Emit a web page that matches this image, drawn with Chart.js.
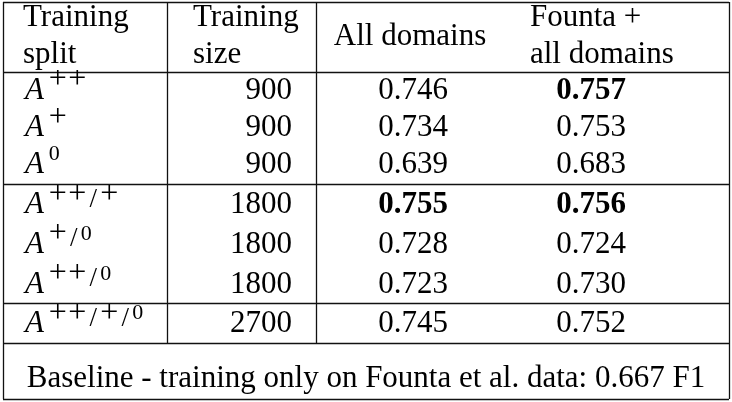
<!DOCTYPE html>
<html><head><meta charset="utf-8">
<script src="https://cdn.jsdelivr.net/npm/chart.js@4.4.1/dist/chart.umd.min.js"></script>
<style>html,body{margin:0;padding:0;background:#fff}#wrap{width:732px;height:402px;position:relative}</style>
</head><body><div id="wrap"><canvas id="c"></canvas></div>
<script>
// ---- data ----
const headerLines = [['Training', 'split'], ['Training', 'size'], ['All domains'], ['Founta +', 'all domains']];
const splitBase = 'A';
const splitSups = ['++', '+', '0', '++/+', '+/0', '++/0', '++/+/0'];
const trainingSizes = [900, 900, 900, 1800, 1800, 1800, 2700];
const allDomains = [0.746, 0.734, 0.639, 0.755, 0.728, 0.723, 0.745];
const fountaAllDomains = [0.757, 0.753, 0.683, 0.756, 0.724, 0.730, 0.752];
const boldAllDomains = [false, false, false, true, false, false, false];
const boldFounta = [true, false, false, true, false, false, false];
const sectionSizes = [3, 3, 1];
const baselineNote = 'Baseline - training only on Founta et al. data: 0.667 F1';

// ---- layout (positions / styles only, in scale units) ----
const layout = {
  left: 3, right: 729, colLines: [167, 315.5],
  top: 2, headerBottom: 72, bottom: 399,
  headerBaselines: [25.5, 62.5], headerSingleBaseline: 45,
  rowHeight: 37.3, tallRowHeight: 39.7, rowDepth: 10.5,
  noteBaseline: 387,
  headerX: [{x: 23, a: 'left'}, {x: 193, a: 'left'}, {x: 410, a: 'center'}, {x: 530, a: 'left'}],
  cellX: [{x: 25, a: 'left'}, {x: 292, a: 'right'}, {x: 413, a: 'center'}, {x: 591, a: 'center'}],
  font: 31, supStart: 23,
  sup: {
    '+': {size: 32, adv: 19.5, lift: 10.4},
    '/': {size: 27, adv: 12.5, lift: 6.6},
    '0': {size: 22, adv: 12.5, lift: 13}
  }
};

const tablePlugin = {
  id: 'table',
  beforeDraw(chart) {
    const c = chart.ctx; c.save(); c.fillStyle = '#fff'; c.fillRect(0, 0, chart.width, chart.height); c.restore();
  },
  afterDraw(chart) {
    const c = chart.ctx, xs = chart.scales.x, ys = chart.scales.y;
    const X = v => xs.getPixelForValue(v), Y = v => ys.getPixelForValue(v);
    const serif = '"Liberation Serif", "Times New Roman", serif';
    // row geometry (rows with a slash in the superscript are taller, as in LaTeX)
    const rowBase = [], seps = [];
    let y = layout.headerBottom, r = 0;
    sectionSizes.forEach(n => {
      for (let k = 0; k < n; k++, r++) {
        const h = splitSups[r].includes('/') ? layout.tallRowHeight : layout.rowHeight;
        y += h; rowBase.push(y - layout.rowDepth);
      }
      seps.push(y);
    });
    const lastSep = seps[seps.length - 1];

    c.save();
    c.fillStyle = '#000'; c.strokeStyle = '#111'; c.lineWidth = 1.3;
    c.beginPath();
    [layout.top, layout.headerBottom, ...seps, layout.bottom].forEach(v => {
      const py = Math.round(Y(v)) + 0.5; c.moveTo(X(layout.left), py); c.lineTo(X(layout.right), py);
    });
    [layout.left, layout.right].forEach(v => { const px = Math.round(X(v)) + 0.5; c.moveTo(px, Y(layout.top)); c.lineTo(px, Y(layout.bottom)); });
    layout.colLines.forEach(v => { const px = Math.round(X(v)) + 0.5; c.moveTo(px, Y(layout.top)); c.lineTo(px, Y(lastSep)); });
    c.stroke();

    c.textBaseline = 'alphabetic';
    const normal = layout.font + 'px ' + serif;
    const bold = 'bold ' + layout.font + 'px ' + serif;
    c.font = normal;
    headerLines.forEach((lines, i) => {
      const h = layout.headerX[i]; c.textAlign = h.a;
      if (lines.length === 1) c.fillText(lines[0], X(h.x), Y(layout.headerSingleBaseline));
      else lines.forEach((t, k) => c.fillText(t, X(h.x), Y(layout.headerBaselines[k])));
    });
    splitSups.forEach((sup, i) => {
      const by = Y(rowBase[i]);
      c.textAlign = 'left';
      c.font = 'italic ' + layout.font + 'px ' + serif;
      const x0 = X(layout.cellX[0].x);
      c.fillText(splitBase, x0, by);
      let x = x0 + layout.supStart;
      c.textAlign = 'center';
      for (const ch of sup) {
        const s = layout.sup[ch];
        c.font = s.size + 'px ' + serif;
        c.fillText(ch, x + s.adv / 2, by - s.lift);
        x += s.adv;
      }
      c.font = normal; c.textAlign = layout.cellX[1].a;
      c.fillText(String(trainingSizes[i]), X(layout.cellX[1].x), by);
      c.textAlign = layout.cellX[2].a; c.font = boldAllDomains[i] ? bold : normal;
      c.fillText(allDomains[i].toFixed(3), X(layout.cellX[2].x), by);
      c.textAlign = layout.cellX[3].a; c.font = boldFounta[i] ? bold : normal;
      c.fillText(fountaAllDomains[i].toFixed(3), X(layout.cellX[3].x), by);
    });
    c.font = normal; c.textAlign = 'center';
    c.fillText(baselineNote, X((layout.left + layout.right) / 2), Y(layout.noteBaseline));
    c.restore();
  }
};

new Chart(document.getElementById('c'), {
  type: 'scatter',
  data: { datasets: [{ label: 'table', data: [], pointRadius: 0 }] },
  options: {
    responsive: true, maintainAspectRatio: false, animation: false,
    devicePixelRatio: 1,
    layout: { padding: 0 },
    plugins: { legend: { display: false }, tooltip: { enabled: false } },
    scales: {
      x: { type: 'linear', min: 0, max: 732, display: false },
      y: { type: 'linear', min: 0, max: 402, reverse: true, display: false }
    }
  },
  plugins: [tablePlugin]
});
</script></body></html>
